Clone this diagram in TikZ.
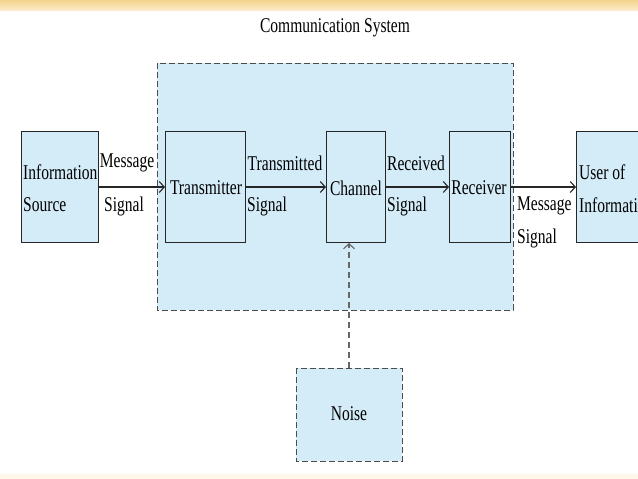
\documentclass[tikz,border=0pt]{standalone}
\usepackage{fontspec}
\setmainfont{Liberation Serif}
\usetikzlibrary{arrows.meta}
\definecolor{lb}{HTML}{D4ECF8}
\definecolor{bar1}{HTML}{F3D48A}
\definecolor{bar2}{HTML}{FBEBC8}
\begin{document}
\begin{tikzpicture}[x=1pt,y=-1pt,
  blk/.style={draw=black!85,fill=lb,line width=1pt},
  dbox/.style={dash pattern=on 6pt off 3pt,fill=lb,draw=black!70,line width=1pt},
  lbl/.style={font=\fontsize{21}{23}\selectfont,xscale=0.74,inner sep=0},
  arr/.style={draw=black!85,line width=1.1pt,-{Straight Barb[length=5pt,width=11pt]}}]
\useasboundingbox (0,0) rectangle (638,479);
\shade[top color=bar1,bottom color=bar2] (0,0) rectangle (638,10);
\fill[color=bar2!40] (0,474) rectangle (638,479);
\node[lbl] (title) at (335,28) {Communication System};
\path[dbox] (157,63) rectangle (513,310);
\path[blk] (21,131) rectangle (98,242);
\path[blk] (165,131) rectangle (245,242);
\path[blk] (326,131) rectangle (385,242);
\path[blk] (449,131) rectangle (510,242);
\path[blk] (576,131) rectangle (645,242);
\path[dbox] (296,368) rectangle (402,461);
\coordinate (srcE) at (98,187); \coordinate (txW) at (165,187);
\coordinate (txE) at (245,187); \coordinate (chW) at (326,187);
\coordinate (chE) at (385,187); \coordinate (rxW) at (449,187);
\coordinate (rxE) at (510,187); \coordinate (usW) at (576,187);
\coordinate (nzN) at (349,368); \coordinate (chS) at (349,243);
\draw[arr] (srcE) -- (txW);
\draw[arr] (txE) -- (chW);
\draw[arr] (chE) -- (rxW);
\draw[arr] (rxE) -- (usW);
\draw[arr,draw=black!60,dash pattern=on 6pt off 4pt] (nzN) -- (chS);
\node[lbl,anchor=west] (a) at (23,172) {Information};
\node[lbl,anchor=west] (b) at (23,205) {Source};
\node[lbl] (c) at (127,163) {Message};
\node[lbl] (d) at (124,206) {Signal};
\node[lbl] (e) at (206,188) {Transmitter};
\node[lbl] (f) at (285,163) {Transmitted};
\node[lbl,anchor=west] (g) at (247,206) {Signal};
\node[lbl] (h) at (356,188) {Channel};
\node[lbl,anchor=west] (i) at (387,163) {Received};
\node[lbl,anchor=west] (j) at (387,206) {Signal};
\node[lbl] (k) at (479,188) {Receiver};
\node[lbl,anchor=west] (l) at (517,206) {Message};
\node[lbl,anchor=west] (m) at (517,238) {Signal};
\node[lbl,anchor=west] (n) at (579,172) {User of};
\node[lbl,anchor=west] (o) at (579,205) {Information};
\node[lbl] (p) at (349,414) {Noise};
\end{tikzpicture}
\end{document}
